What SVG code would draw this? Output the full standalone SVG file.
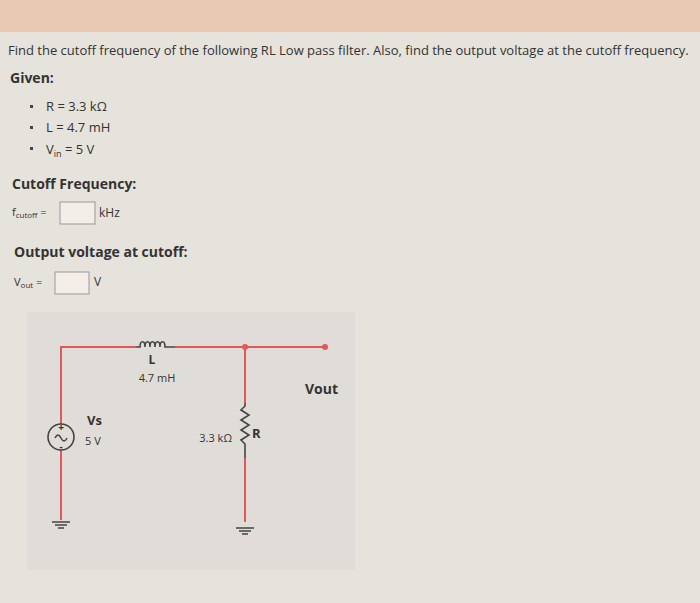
<svg xmlns="http://www.w3.org/2000/svg" width="700" height="603" viewBox="0 0 700 603">
<style>
.t{font-family:"Open Sans","Liberation Sans",sans-serif;fill:#333}
.b{font-weight:bold}
.w{stroke:#e05858;stroke-width:2;fill:none}
.k{stroke:#444;stroke-width:1.6;fill:none}
.box{fill:#f3eee8;stroke:#999;stroke-width:1}
</style>
<rect width="700" height="603" fill="#e9e4dc"/>
<rect width="700" height="32" fill="#eac9b4"/>
<rect x="0" y="32" width="700" height="571" fill="#e6e2dc"/>
<g id="text">
<text class="t" x="8" y="55" font-size="13">Find the cutoff frequency of the following RL Low pass filter. Also, find the output voltage at the cutoff frequency.</text>
<text class="t b" x="10" y="83" font-size="14">Given:</text>
<rect x="30" y="105" width="3" height="3" fill="#444"/>
<rect x="30" y="126" width="3" height="3" fill="#444"/>
<rect x="30" y="147" width="3" height="3" fill="#444"/>
<text class="t" x="46" y="111" font-size="13">R = 3.3 kΩ</text>
<text class="t" x="46" y="132" font-size="13">L = 4.7 mH</text>
<text class="t" x="46" y="154" font-size="13">V<tspan font-size="9" dy="3">in</tspan><tspan dy="-3"> = 5 V</tspan></text>
<text class="t b" x="12" y="189" font-size="14">Cutoff Frequency:</text>
<text class="t" x="12" y="216" font-size="11" fill="#666">f<tspan font-size="8" dy="2">cutoff</tspan><tspan dy="-2"> =</tspan></text>
<rect class="box" x="60" y="202" width="35" height="22"/>
<text class="t" x="99" y="217" font-size="12">kHz</text>
<text class="t b" x="14" y="257" font-size="14">Output voltage at cutoff:</text>
<text class="t" x="14" y="286" font-size="11" fill="#666">V<tspan font-size="8" dy="2">out</tspan><tspan dy="-2"> =</tspan></text>
<rect class="box" x="55" y="272" width="34" height="22"/>
<text class="t" x="94" y="286" font-size="12">V</text>
</g>
<rect x="27" y="312" width="328" height="258" fill="#e0ddd8"/>
<g id="connectors">
<path class="w" d="M61 424V347H136M175 347H325M245 347V403M245 458V522M61 450V520"/>
</g>
<g id="L">
<path class="k" d="M136 347h4c0-7 5-7 5 0c0-7 5-7 5 0c0-7 5-7 5 0c0-7 5-7 5 0c0-7 5-7 5 0h10"/>
<text class="t b" x="152" y="364" font-size="12" text-anchor="middle">L</text>
<text class="t" x="157" y="382" font-size="11" text-anchor="middle">4.7 mH</text>
</g>
<g id="Vs">
<circle class="k" cx="61" cy="437" r="13"/>
<text class="t b" x="61" y="431" font-size="10" text-anchor="middle">+</text>
<path class="k" d="M55 438c2-4 4-4 6 0s4 4 6 0"/>
<text class="t b" x="61" y="450" font-size="10" text-anchor="middle">-</text>
<text class="t b" x="87" y="425" font-size="13">Vs</text>
<text class="t" x="85" y="445" font-size="11">5 V</text>
<path class="k" d="M52 522h18M55 525h12M58 528h6"/>
</g>
<g id="R">
<path class="k" d="M245 403v3l-4 4 8 5-8 5 8 5-8 5 8 5-8 5 4 4v14"/>
<text class="t" x="232" y="442" font-size="11" text-anchor="end">3.3 kΩ</text>
<text class="t b" x="252" y="438" font-size="13">R</text>
<path class="k" d="M236 528h18M239 531h12M242 534h6"/>
</g>
<g id="nodes">
<circle cx="245" cy="347" r="3" fill="#e05858"/>
<circle cx="325" cy="347" r="3" fill="#e05858"/>
<text class="t b" x="305" y="394" font-size="14">Vout</text>
</g>
</svg>
